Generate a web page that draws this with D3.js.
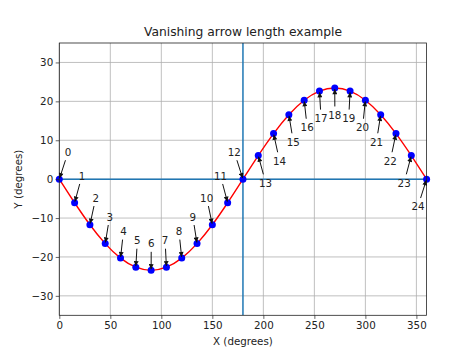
<!DOCTYPE html>
<html><head><meta charset="utf-8">
<script src="https://cdn.jsdelivr.net/npm/d3@7"></script>
<style>body{margin:0;background:#fff}svg{display:block;font-family:"DejaVu Sans",sans-serif}</style>
</head><body><svg id="c" width="474" height="355"></svg>
<script>
const xValues = [0,15,30,45,60,75,90,105,120,135,150,165,180,195,210,225,240,255,270,285,300,315,330,345,360];
const yValues = [0,-6.07,-11.72,-16.57,-20.30,-22.64,-23.44,-22.64,-20.30,-16.57,-11.72,-6.07,0,6.07,11.72,16.57,20.30,22.64,23.44,22.64,20.30,16.57,11.72,6.07,0];
const pointLabels = xValues.map((d,i)=>String(i));
const xTicks = [0,50,100,150,200,250,300,350];
const yTicks = [-30,-20,-10,0,10,20,30];
const title = "Vanishing arrow length example";
const xLabel = "X (degrees)";
const yLabel = "Y (degrees)";

const W=474,H=355, L=59.3, R=426.6, T=43, B=315.3;
const svg=d3.select("#c");
const x=d3.scaleLinear().domain([0,360]).range([L,R]);
const y=d3.scaleLinear().domain([-35,35]).range([B,T]);

// grid
svg.append("g").selectAll("line").data(xTicks).join("line")
  .attr("x1",d=>x(d)).attr("x2",d=>x(d)).attr("y1",T).attr("y2",B)
  .attr("stroke","#b0b0b0").attr("stroke-width",0.8);
svg.append("g").selectAll("line").data(yTicks).join("line")
  .attr("y1",d=>y(d)).attr("y2",d=>y(d)).attr("x1",L).attr("x2",R)
  .attr("stroke","#b0b0b0").attr("stroke-width",0.8);

svg.append("clipPath").attr("id","clp").append("rect").attr("x",L).attr("y",T).attr("width",R-L).attr("height",B-T);
const plot=svg.append("g").attr("clip-path","url(#clp)");

// reference lines
plot.append("line").attr("x1",L).attr("x2",R).attr("y1",y(0)).attr("y2",y(0)).attr("stroke","#1f77b4").attr("stroke-width",1.5);
plot.append("line").attr("x1",x(180)).attr("x2",x(180)).attr("y1",T).attr("y2",B).attr("stroke","#1f77b4").attr("stroke-width",1.5);

const pts=xValues.map((d,i)=>({x:d,y:yValues[i],label:pointLabels[i],i}));
plot.append("path").datum(pts)
  .attr("d",d3.line().x(d=>x(d.x)).y(d=>y(d.y)).curve(d3.curveNatural))
  .attr("fill","none").attr("stroke","red").attr("stroke-width",1.4);

svg.append("g").selectAll("circle").data(pts).join("circle")
  .attr("cx",d=>x(d.x)).attr("cy",d=>y(d.y)).attr("r",3.5).attr("fill","#0000ff");

// spines
svg.append("rect").attr("x",L).attr("y",T).attr("width",R-L).attr("height",B-T).attr("fill","none").attr("stroke","#222").attr("stroke-width",0.8);

// axes
const xa=svg.append("g").attr("transform",`translate(0,${B})`).call(d3.axisBottom(x).tickValues(xTicks).tickSize(3.6).tickSizeOuter(0).tickPadding(2.5));
const ya=svg.append("g").attr("transform",`translate(${L},0)`).call(d3.axisLeft(y).tickValues(yTicks).tickSize(3.6).tickSizeOuter(0).tickPadding(2.5).tickFormat(d=>d<0?"\u2212"+Math.abs(d):d));
[xa,ya].forEach(a=>{a.select(".domain").remove();a.selectAll("text").attr("font-size","10.3px").attr("fill","#222").attr("font-family","DejaVu Sans");a.selectAll("line").attr("stroke","#222").attr("stroke-width",0.7);});

// annotations
const defs=svg.append("defs");
defs.append("marker").attr("id","ah").attr("viewBox","0 0 10 10").attr("refX",10).attr("refY",5)
  .attr("markerWidth",6).attr("markerHeight",5).attr("markerUnits","userSpaceOnUse").attr("orient","auto")
  .append("path").attr("d","M0,0L10,5L0,10z").attr("fill","#111");
const ann=svg.append("g");
pts.forEach(d=>{
  const j=d.i%12===0 && d.i>0 ? 12 : d.i%12;
  const above = d.i<=12;
  const dx = 8.8-1.45*j;
  const dy = above ? -27 : 27;
  const px=x(d.x), py=y(d.y);
  const tx=px+dx, ty=py+dy;
  ann.append("text").attr("x",tx).attr("y",ty).attr("text-anchor","middle").attr("dominant-baseline","central")
    .attr("font-size","10.3px").attr("fill","#222").text(d.label);
  const vx=px-tx, vy=py-ty, len=Math.hypot(vx,vy), ux=vx/len, uy=vy/len;
  const s0=8.5, s1=1.2;
  ann.append("line").attr("x1",tx+ux*s0).attr("y1",ty+uy*s0).attr("x2",px-ux*s1).attr("y2",py-uy*s1)
    .attr("stroke","#111").attr("stroke-width",1).attr("marker-end","url(#ah)");
});

svg.append("text").attr("x",(L+R)/2).attr("y",36).attr("text-anchor","middle").attr("font-size","12.3px").attr("fill","#222").text(title);
svg.append("text").attr("x",(L+R)/2).attr("y",345).attr("text-anchor","middle").attr("font-size","10.3px").attr("fill","#222").text(xLabel);
svg.append("text").attr("transform",`translate(22,${(T+B)/2}) rotate(-90)`).attr("text-anchor","middle").attr("font-size","10.3px").attr("fill","#222").text(yLabel);
</script></body></html>
